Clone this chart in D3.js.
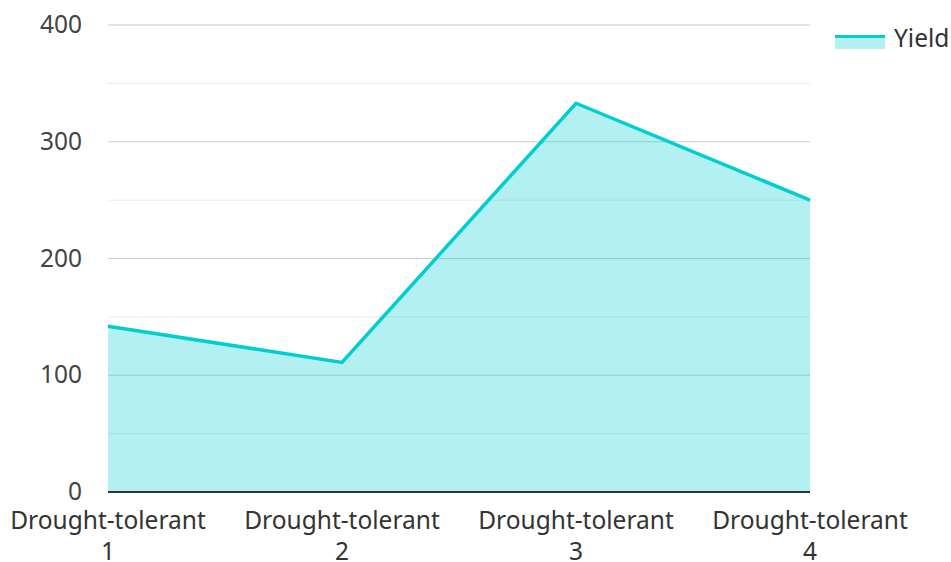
<!DOCTYPE html>
<html>
<head>
<meta charset="utf-8">
<script src="https://cdn.jsdelivr.net/npm/d3@7"></script>
<style>
  html, body { margin: 0; padding: 0; background: #fff; }
  svg { display: block; font-family: "Noto Sans", "Open Sans", sans-serif; }
</style>
</head>
<body>
<svg id="chart" width="951" height="562"></svg>
<script>
// Yield per drought-tolerant variety
const categories = [
  ["Drought-tolerant", "1"],
  ["Drought-tolerant", "2"],
  ["Drought-tolerant", "3"],
  ["Drought-tolerant", "4"]
];
const yieldValues = [142, 111, 333, 250];
const yTicks = [0, 100, 200, 300, 400];
const yMinorTicks = [50, 150, 250, 350];
const seriesName = "Yield";

const color = "#00CED1";
const svg = d3.select("#chart");
const margin = { left: 108, right: 141, top: 25, bottom: 70 };
const W = 951, H = 562;
const fontSize = 24.5;

const x = d3.scalePoint()
  .domain(d3.range(categories.length))
  .range([margin.left, W - margin.right]);
const y = d3.scaleLinear()
  .domain([0, 400])
  .range([H - margin.bottom, margin.top]);

// Grid
svg.append("g").selectAll("line").data(yMinorTicks).join("line")
  .attr("x1", margin.left).attr("x2", W - margin.right)
  .attr("y1", d => y(d)).attr("y2", d => y(d))
  .attr("stroke", "#ebebeb").attr("stroke-width", 1);
svg.append("g").selectAll("line").data(yTicks.filter(d => d > 0)).join("line")
  .attr("x1", margin.left).attr("x2", W - margin.right)
  .attr("y1", d => y(d)).attr("y2", d => y(d))
  .attr("stroke", "#cccccc").attr("stroke-width", 1);

// Area + line
svg.append("path")
  .datum(yieldValues)
  .attr("d", d3.area().x((d, i) => x(i)).y0(y(0)).y1(d => y(d)))
  .attr("fill", color).attr("fill-opacity", 0.3);
svg.append("path")
  .datum(yieldValues)
  .attr("d", d3.line().x((d, i) => x(i)).y(d => y(d)))
  .attr("fill", "none").attr("stroke", color).attr("stroke-width", 3.5)
  .attr("stroke-linejoin", "miter");

// Baseline
svg.append("line")
  .attr("x1", margin.left).attr("x2", W - margin.right)
  .attr("y1", y(0)).attr("y2", y(0))
  .attr("stroke", "#333").attr("stroke-width", 2);

// Y labels
svg.append("g").selectAll("text").data(yTicks).join("text")
  .attr("x", 82).attr("y", d => y(d) + 8)
  .attr("text-anchor", "end")
  .attr("font-size", fontSize).attr("fill", "#444")
  .text(d => d);

// X labels (two lines)
const xl = svg.append("g").selectAll("text").data(categories).join("text")
  .attr("text-anchor", "middle")
  .attr("font-size", fontSize).attr("fill", "#333");
xl.append("tspan").attr("x", (d, i) => x(i)).attr("y", 529).text(d => d[0]);
xl.append("tspan").attr("x", (d, i) => x(i)).attr("y", 560).text(d => d[1]);

// Legend
const lg = svg.append("g").attr("transform", "translate(835,35)");
lg.append("rect").attr("x", 0).attr("y", 0).attr("width", 50).attr("height", 14)
  .attr("fill", color).attr("fill-opacity", 0.3);
lg.append("line").attr("x1", 0).attr("x2", 50).attr("y1", 1.5).attr("y2", 1.5)
  .attr("stroke", color).attr("stroke-width", 3);
lg.append("text").attr("x", 59).attr("y", 12)
  .attr("font-size", fontSize).attr("fill", "#333").text(seriesName);
</script>
</body>
</html>
